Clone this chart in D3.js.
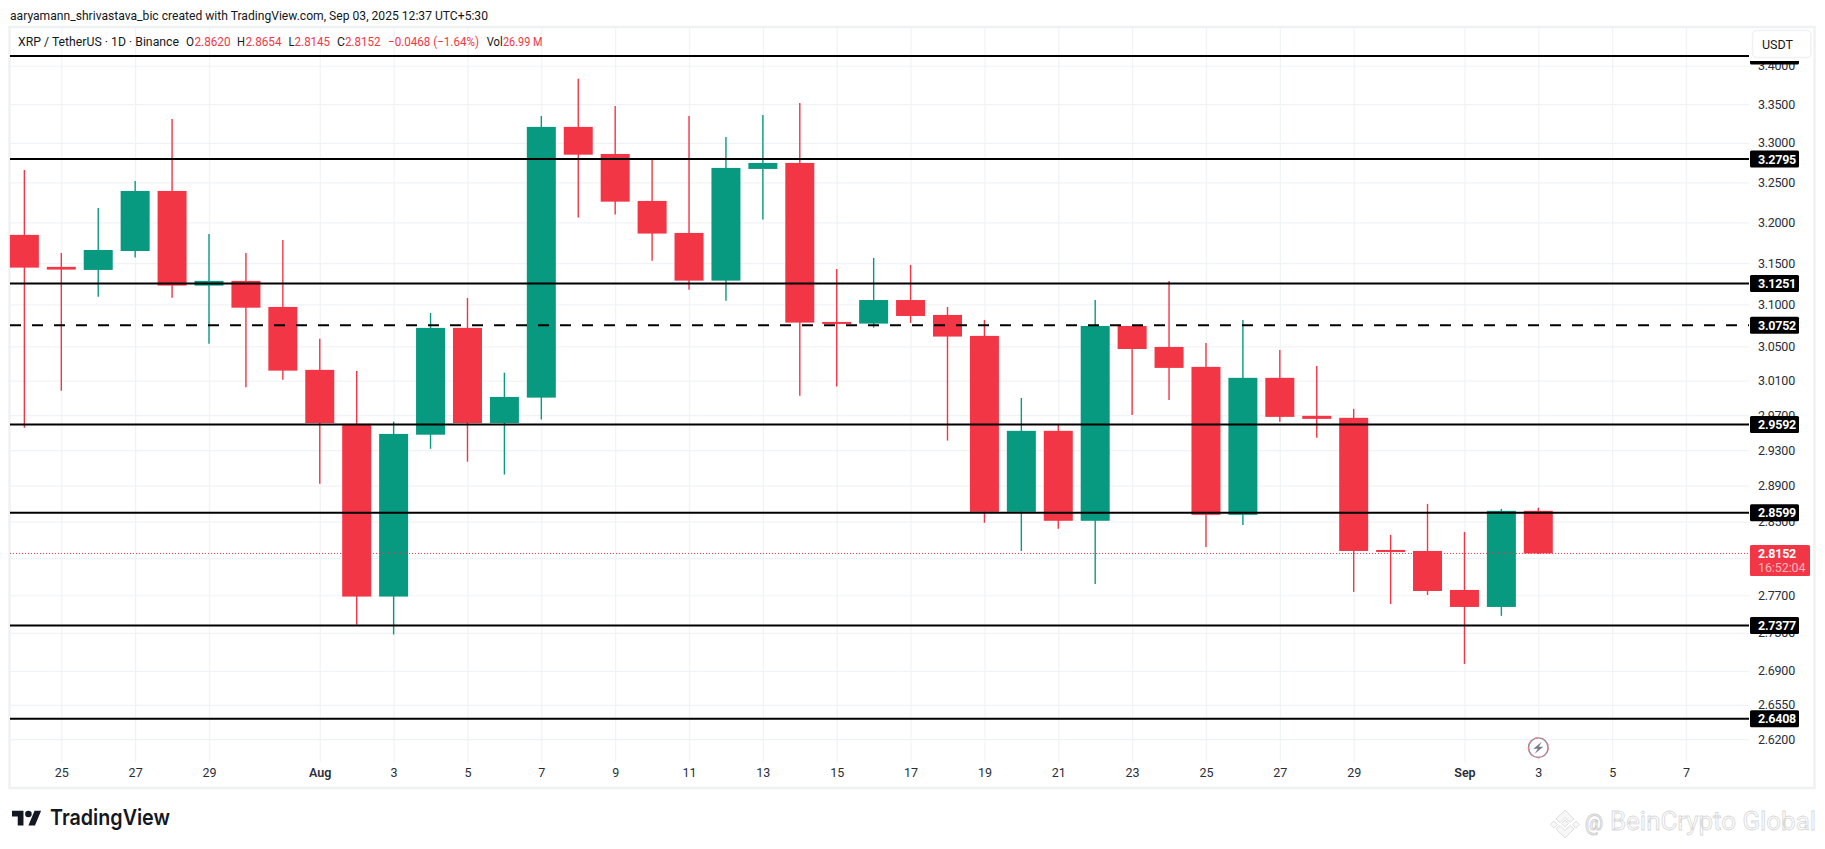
<!DOCTYPE html>
<html>
<head>
<meta charset="utf-8">
<title>XRP / TetherUS</title>
<script src="https://cdn.jsdelivr.net/npm/d3@7"></script>
<style>
	html, body { margin: 0; padding: 0; background: #fff; }
	svg { display: block; font-family: Roboto, sans-serif; }
	text { fill: #131722; }
</style>
</head>
<body>
<svg id="chart" width="1825" height="849"></svg>
<script>
// candles, daily
const dates = ["2025-07-24","2025-07-25","2025-07-26","2025-07-27","2025-07-28","2025-07-29","2025-07-30","2025-07-31",
	"2025-08-01","2025-08-02","2025-08-03","2025-08-04","2025-08-05","2025-08-06","2025-08-07","2025-08-08","2025-08-09",
	"2025-08-10","2025-08-11","2025-08-12","2025-08-13","2025-08-14","2025-08-15","2025-08-16","2025-08-17","2025-08-18",
	"2025-08-19","2025-08-20","2025-08-21","2025-08-22","2025-08-23","2025-08-24","2025-08-25","2025-08-26","2025-08-27",
	"2025-08-28","2025-08-29","2025-08-30","2025-08-31","2025-09-01","2025-09-02","2025-09-03"];
const opens = [3.1846,3.1454,3.1417,3.1648,3.2392,3.1227,3.1284,3.0970,
	3.0225,2.9600,2.7686,2.9476,3.0720,2.9609,2.9902,3.3205,3.2859,
	3.2267,3.1870,3.1287,3.2669,3.2745,3.0791,3.0771,3.1053,3.0874,
	3.0625,2.8609,2.9520,2.8510,3.0743,3.0494,3.0260,2.8576,3.0132,
	2.9692,2.9669,2.8190,2.8179,2.7757,2.7575,2.8620];
const highs = [3.2657,3.1624,3.2180,3.2518,3.3308,3.1858,3.1624,3.1784,
	3.0590,3.0213,2.9625,3.0898,3.1077,3.0192,3.3346,3.3828,3.3475,
	3.2787,3.3346,3.3076,3.3359,3.3513,3.1429,3.1563,3.1478,3.0970,
	3.0815,2.9898,2.9588,3.1053,3.0743,3.1284,3.0541,3.0815,3.0458,
	3.0271,2.9772,2.8355,2.8697,2.8388,2.8642,2.8654];
const lows = [2.9556,2.9983,3.1093,3.1567,3.1081,3.0532,3.0021,3.0111,
	2.8923,2.7386,2.7283,2.9316,2.9170,2.9025,2.9649,3.2060,3.2097,
	3.1530,3.1178,3.1045,3.2035,2.9925,3.0030,3.0723,3.0779,2.9409,
	2.8488,2.8179,2.8421,2.7822,2.9703,2.9875,2.8223,2.8465,2.9623,
	2.9440,2.7736,2.7607,2.7703,2.6974,2.7480,2.8145];
const closes = [3.1445,3.1421,3.1660,3.2392,3.1227,3.1284,3.0961,3.0216,
	2.9609,2.7686,2.9485,3.0720,2.9609,2.9910,3.3205,3.2850,3.2258,
	3.1862,3.1287,3.2682,3.2745,3.0783,3.0767,3.1053,3.0862,3.0617,
	2.8609,2.9520,2.8510,3.0743,3.0470,3.0248,2.8576,3.0132,2.9680,
	2.9657,2.8179,2.8168,2.7746,2.7575,2.8620,2.8152];

const priceTicks = [3.40,3.35,3.30,3.25,3.20,3.15,3.10,3.05,3.01,2.97,2.93,2.89,2.85,2.81,2.77,2.73,2.69,2.655,2.62];
const dateTicks = ["2025-07-25","2025-07-27","2025-07-29","2025-08-01","2025-08-03","2025-08-05","2025-08-07","2025-08-09",
	"2025-08-11","2025-08-13","2025-08-15","2025-08-17","2025-08-19","2025-08-21","2025-08-23","2025-08-25","2025-08-27",
	"2025-08-29","2025-09-01","2025-09-03","2025-09-05","2025-09-07"];
const levels = [3.4129,3.2795,3.1251,3.0752,2.9592,2.8599,2.7377,2.6408];
const dashedLevels = [3.0752];
const hiddenTagText = [3.4129]; // this tag sits under the USDT button
const lastPrice = 2.8152;
const countdown = "16:52:04";

const parseDay = d3.utcParse("%Y-%m-%d");
const up = "#089981", down = "#F23645";

const paneLeft = 10, paneRight = 1749, paneTop = 27, paneBottom = 762;

const candles = dates.map((d, i) => ({date: parseDay(d), o: opens[i], h: highs[i], l: lows[i], c: closes[i]}));

const x = d3.scaleUtc().domain([parseDay("2025-07-25"), parseDay("2025-09-07")]).range([61.3, 1686]);
const y = d3.scaleLog().domain([2.5969, 3.4514]).range([paneBottom, paneTop]);

const svg = d3.select("#chart");

// outer frame
svg.append("rect").attr("x", 9.5).attr("y", 27).attr("width", 1805).attr("height", 761)
	.attr("fill", "#fff").attr("stroke", "#f0f1f3").attr("stroke-width", 2.5);

// grid
const gridX = svg.append("g").attr("transform", `translate(0,${paneBottom})`)
	.call(d3.axisBottom(x).tickValues(dateTicks.map(parseDay)).tickSize(-(paneBottom - paneTop)).tickFormat(""));
const gridY = svg.append("g").attr("transform", `translate(${paneLeft},0)`)
	.call(d3.axisRight(y).tickValues(priceTicks).tickSize(paneRight - paneLeft).tickFormat(""));
[gridX, gridY].forEach(g => {
	g.select(".domain").remove();
	g.selectAll("line").attr("stroke", "#f0f3f5").attr("stroke-width", 1.2);
});

// candles
const bodyWidth = 29;
const candle = svg.append("g").selectAll("g").data(candles).join("g")
	.attr("fill", d => d.c >= d.o ? up : down)
	.attr("stroke", d => d.c >= d.o ? up : down);
candle.append("line")
	.attr("x1", d => x(d.date)).attr("x2", d => x(d.date))
	.attr("y1", d => y(d.h)).attr("y2", d => y(d.l))
	.attr("stroke-width", 1.4);
candle.append("rect")
	.attr("x", d => x(d.date) - bodyWidth / 2)
	.attr("width", bodyWidth)
	.attr("y", d => y(Math.max(d.o, d.c)))
	.attr("height", d => Math.abs(y(d.o) - y(d.c)))
	.attr("stroke", "none");

// last price line
svg.append("line").attr("x1", paneLeft).attr("x2", paneRight).attr("y1", y(lastPrice)).attr("y2", y(lastPrice))
	.attr("stroke", down).attr("stroke-width", 1).attr("stroke-dasharray", "1 2");

// support / resistance levels
svg.append("g").selectAll("line").data(levels).join("line")
	.attr("x1", paneLeft).attr("x2", paneRight)
	.attr("y1", d => y(d)).attr("y2", d => y(d))
	.attr("stroke", "#000").attr("stroke-width", 2)
	.attr("stroke-dasharray", d => dashedLevels.includes(d) ? "11 11" : null);

// axis labels
const axisRight = svg.append("g").attr("transform", `translate(${paneRight},0)`)
	.call(d3.axisRight(y).tickValues(priceTicks).tickSize(0).tickPadding(9).tickFormat(d3.format(".4f")));
axisRight.select(".domain").remove();
axisRight.selectAll("text").attr("font-size", 12.5).attr("letter-spacing", -0.25).style("font-family", "Roboto").style("fill", "#2a2e39");

const axisBottom = svg.append("g").attr("transform", `translate(0,${paneBottom})`)
	.call(d3.axisBottom(x).tickValues(dateTicks.map(parseDay)).tickSize(0).tickPadding(6)
		.tickFormat(d => d.getUTCDate() === 1 ? d3.utcFormat("%b")(d) : d.getUTCDate()));
axisBottom.select(".domain").remove();
axisBottom.selectAll("text").attr("font-size", 12.5).style("font-family", "Roboto").style("fill", "#2a2e39")
	.attr("font-weight", d => d.getUTCDate() === 1 ? 600 : 400);

// level tags on the price axis
const tag = svg.append("g").selectAll("g").data(levels).join("g")
	.attr("transform", d => `translate(1750,${y(d)})`);
tag.append("rect").attr("y", -8.5).attr("width", 49).attr("height", 17).attr("rx", 1.5).attr("fill", "#000");
tag.filter(d => !hiddenTagText.includes(d)).append("text")
	.attr("x", 8).attr("dy", "0.36em").attr("font-size", 12.5).attr("font-weight", 700)
	.attr("letter-spacing", -0.25).style("fill", "#fff").text(d => d3.format(".4f")(d));

// currency button, sits on top of the highest tag
svg.append("rect").attr("x", 1750).attr("y", 29).attr("width", 63).attr("height", 32).attr("fill", "#fff");
svg.append("rect").attr("x", 1752.5).attr("y", 30.5).attr("width", 58.5).attr("height", 27).attr("rx", 4)
	.attr("fill", "#fff").attr("stroke", "#f0f1f3").attr("stroke-width", 1.5);
svg.append("text").attr("x", 1762).attr("y", 49).attr("font-size", 12.5).text("USDT");

// last price tag
const lastTag = svg.append("g").attr("transform", `translate(1750,${y(lastPrice) - 8.5})`);
lastTag.append("rect").attr("width", 60).attr("height", 31).attr("rx", 1.5).attr("fill", down);
lastTag.append("text").attr("x", 8).attr("y", 13).attr("font-size", 12.5).attr("font-weight", 700)
	.attr("letter-spacing", -0.25).style("fill", "#fff").text(d3.format(".4f")(lastPrice));
lastTag.append("text").attr("x", 8).attr("y", 27).attr("font-size", 12.5).attr("letter-spacing", -0.1)
	.style("fill", "#fbb6bd").text(countdown);

// header lines
svg.append("text").attr("x", 10).attr("y", 19.5).attr("font-size", 13)
	.attr("textLength", 478).attr("lengthAdjust", "spacingAndGlyphs")
	.text("aaryamann_shrivastava_bic created with TradingView.com, Sep 03, 2025 12:37 UTC+5:30");

const legend = [
	["XRP / TetherUS · 1D · Binance", 18, 161, "#131722"],
	["O", 186, 8, "#131722"], ["2.8620", 194.5, 36, down],
	["H", 237, 8, "#131722"], ["2.8654", 245.5, 36, down],
	["L", 288.6, 6, "#131722"], ["2.8145", 294.6, 35.5, down],
	["C", 337, 8, "#131722"], ["2.8152", 345, 35.5, down],
	["−0.0468 (−1.64%)", 388, 91, down],
	["Vol", 486.7, 16, "#131722"], ["26.99 M", 503, 39.5, down]
];
svg.append("g").selectAll("text").data(legend).join("text")
	.attr("x", d => d[1]).attr("y", 46).attr("font-size", 12.5)
	.attr("textLength", d => d[2]).attr("lengthAdjust", "spacingAndGlyphs")
	.style("fill", d => d[3]).text(d => d[0]);

// flash icon under the last bar
const flash = svg.append("g").attr("transform", "translate(1538.3,747.7)");
flash.append("circle").attr("r", 9.8).attr("fill", "#fff").attr("stroke", "#868a96").attr("stroke-width", 1.4);
flash.append("circle").attr("r", 9.8).attr("fill", "none").attr("stroke", "#f27a86").attr("stroke-width", 1.4).attr("stroke-dasharray", "3 4");
flash.append("path").attr("d", "M3.5-6L-5 1H-.5L-3.5 6 5-1H.5z").attr("fill", "#787b86");

// TradingView logo
const logo = svg.append("g").attr("transform", "translate(12,807.5) scale(0.82)").attr("fill", "#131722");
logo.append("path").attr("d", "M14 22H7V11H0V4h14v18zM28 22h-8l7.5-18h8L28 22z");
logo.append("circle").attr("cx", 20).attr("cy", 8).attr("r", 4);
svg.append("text").attr("x", 50).attr("y", 825).attr("font-family", "Inter").attr("font-size", 22).attr("font-weight", 600)
	.attr("textLength", 120).attr("lengthAdjust", "spacingAndGlyphs").text("TradingView");

// watermark
const mark = svg.append("g").attr("transform", "translate(1565,823)")
	.attr("fill", "#f7f7f7").attr("stroke", "#dedede").attr("stroke-width", 1);
mark.append("path").attr("d", "M0-13L9-4 5-.5 0-5.5-5-.5-9-4z");
mark.append("path").attr("d", "M0-3L3.5.5 0 4-3.5.5z");
mark.append("path").attr("d", "M-11-2L-7.5 1.5-11 5-14.5 1.5z");
mark.append("path").attr("d", "M11-2L14.500 1.5 11 5 7.500 1.5z");
mark.append("path").attr("d", "M-9 6L-5 2.500 0 7.500 5 2.500 9 6 0 15z");
svg.append("text").attr("x", 1585).attr("y", 830).attr("font-size", 22).attr("font-weight", 500)
	.attr("textLength", 18).attr("lengthAdjust", "spacingAndGlyphs")
	.style("fill", "#fff").style("stroke", "#cfcfcf").style("stroke-width", 1).text("@");
svg.append("text").attr("x", 1610).attr("y", 830).attr("font-size", 25).attr("textLength", 206)
	.attr("lengthAdjust", "spacingAndGlyphs")
	.style("fill", "#fff").style("stroke", "#d8d8d8").style("stroke-width", 0.8)
	.text("BeinCrypto Global");
</script>
</body>
</html>
